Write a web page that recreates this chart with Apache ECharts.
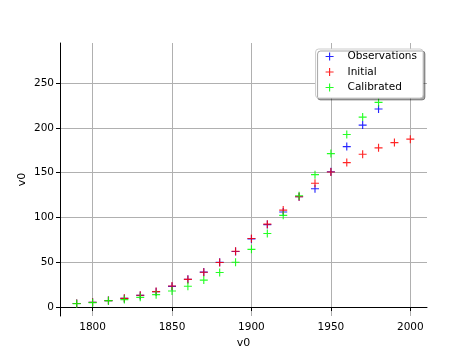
<!DOCTYPE html>
<html><head><meta charset="utf-8">
<script src="https://cdn.jsdelivr.net/npm/echarts@6/dist/echarts.min.js"></script>
<style>html,body{margin:0;padding:0;background:#fff}#c{width:474px;height:355px}</style>
</head><body><div id="c"></div>
<script>
const years = [1790,1800,1810,1820,1830,1840,1850,1860,1870,1880,1890,1900,1910,1920,1930,1940,1950,1960,1970,1980,1990,2000];
const observations = [3.9,5.3,7.2,9.6,13,17,23,31,39,50,62,76,92,106,123,132,151,179,203,221,250,281];
const initial = [3.9,5.3,7.2,9.7,13.2,17.2,23.5,30.8,38.8,49.7,62.2,76.5,92.5,108.2,123.1,138.1,150.7,161.2,170.5,177.6,183.5,187.3];
const calibrated = [3.8,4.9,7.1,8.3,10.8,13.8,17.9,23.2,30.1,38.5,50,64.4,82.1,102.3,124.2,147.7,171.2,192.5,211.9,228.3,243,255];
const xTicks = [1800,1850,1900,1950,2000];
const yTicks = [0,50,100,150,200,250];
const seriesNames = ['Observations','Initial','Calibrated'];
const seriesColors = ['#0000ff','#ff0000','#00ff00'];

const plus = 'path://M3,0h1v3h3v1h-3v3h-1v-3h-3v-1h3z';
function pts(vals){ return years.map((y,i)=>[y, vals[i]]); }
const font = 'DejaVu Sans';
const chart = echarts.init(document.getElementById('c'), null, {renderer:'canvas'});
chart.setOption({
  animation:false,
  backgroundColor:'#ffffff',
  grid:{left:60, right:47, top:43, bottom:39, containLabel:false},
  xAxis:{type:'value', min:1779.5, max:2010.5,
    name:'v0', nameLocation:'middle', nameGap:22, nameMoveOverlap:false,
    nameTextStyle:{fontFamily:font, fontSize:11, color:'#000'},
    axisLine:{show:true, lineStyle:{color:'#000', width:1}},
    axisTick:{show:true, length:4, inside:false, customValues:xTicks, lineStyle:{color:'#000'}},
    axisLabel:{customValues:xTicks, formatter:v=>String(v), fontFamily:font, fontSize:10.5, color:'#000', margin:6},
    splitLine:{show:true, lineStyle:{color:'#b0b0b0', width:1}}
  },
  yAxis:{type:'value', min:-10, max:294.6,
    name:'v0', nameLocation:'middle', nameGap:32, nameRotate:90, nameMoveOverlap:false,
    nameTextStyle:{fontFamily:font, fontSize:11, color:'#000'},
    axisLine:{show:true, lineStyle:{color:'#000', width:1}},
    axisTick:{show:true, length:4, customValues:yTicks, lineStyle:{color:'#000'}},
    axisLabel:{customValues:yTicks, formatter:v=>String(v), fontFamily:font, fontSize:10.5, color:'#000', margin:6},
    splitLine:{show:true, lineStyle:{color:'#b0b0b0', width:1}}
  },
  legend:{orient:'vertical', right:51, top:49, data:seriesNames,
    backgroundColor:'#ffffff', borderColor:'#cccccc', borderWidth:1, borderRadius:3,
    shadowColor:'rgba(0,0,0,0.35)', shadowBlur:0, shadowOffsetX:2, shadowOffsetY:2,
    padding:[1,6,4,10], itemGap:2.5, itemWidth:8, itemHeight:8,
    textStyle:{fontFamily:font, fontSize:10.5, lineHeight:13, color:'#000', padding:[0,0,0,9]}, z:10},
  series: seriesNames.map((n,i)=>({
    name:n, type:'scatter', symbol:plus, symbolSize:8,
    itemStyle:{color:seriesColors[i], opacity:0.85},
    data: pts([observations, initial, calibrated][i]), z:2+i
  }))
});
</script></body></html>
